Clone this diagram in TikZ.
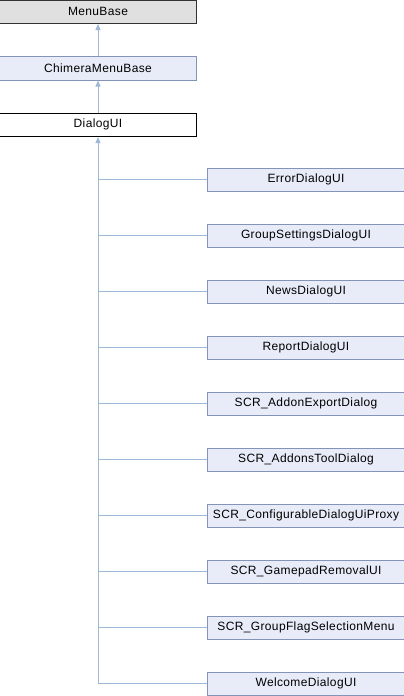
\documentclass[tikz,border=0pt]{standalone}
\usepackage{fontspec}
\setmainfont{Liberation Sans}[LetterSpace=3]
\usetikzlibrary{arrows.meta}
\definecolor{edgec}{HTML}{9DB9D6}
\definecolor{boxfill}{HTML}{E8ECF8}
\definecolor{boxdraw}{HTML}{8494B8}
\definecolor{grayfill}{HTML}{E0E0E0}
\begin{document}
\begin{tikzpicture}[x=1pt,y=-1pt,
  cls/.style={draw=boxdraw,fill=boxfill,line width=1pt,minimum height=23.5pt,inner sep=0pt,font=\fontsize{12}{14}\selectfont,anchor=north west},
  leftbox/.style={cls,minimum width=197pt},
  childbox/.style={cls,minimum width=210pt},
  edge/.style={draw=edgec,line width=0.9pt},
  tip/.style={{Triangle[width=5pt,length=6pt]}-}]
\useasboundingbox (0,0) rectangle (404,696);
\clip (0,0) rectangle (404,696);
\node[leftbox,draw=black!80,fill=grayfill] (menubase) at (-1,-0.5) {MenuBase};
\node[leftbox] (chimera) at (-1,56) {ChimeraMenuBase};
\node[leftbox,draw=black,fill=white] (dialog) at (-1,112.5) {DialogUI};
\draw[edge,tip] (menubase.south) -- (chimera.north);
\draw[edge,tip] (chimera.south) -- (dialog.north);
\foreach \n/\t [count=\i from 0] in {c1/ErrorDialogUI,c2/GroupSettingsDialogUI,c3/NewsDialogUI,c4/ReportDialogUI,c5/SCR\_AddonExportDialog,c6/SCR\_AddonsToolDialog,c7/SCR\_ConfigurableDialogUiProxy,c8/SCR\_GamepadRemovalUI,c9/SCR\_GroupFlagSelectionMenu,c10/WelcomeDialogUI}{
  \node[childbox] (\n) at (207,167.5+56*\i) {\phantom{I}};
  \node[font=\fontsize{12}{14}\selectfont] (\n t) at ([xshift=-6.5pt]\n.center) {\t};
}
\draw[edge,tip] (dialog.south) |- (c10.west);
\foreach \n in {c1,c2,c3,c4,c5,c6,c7,c8,c9}{
  \draw[edge] (\n.west) -- (\n.west -| dialog.south);
}
\end{tikzpicture}
\end{document}
